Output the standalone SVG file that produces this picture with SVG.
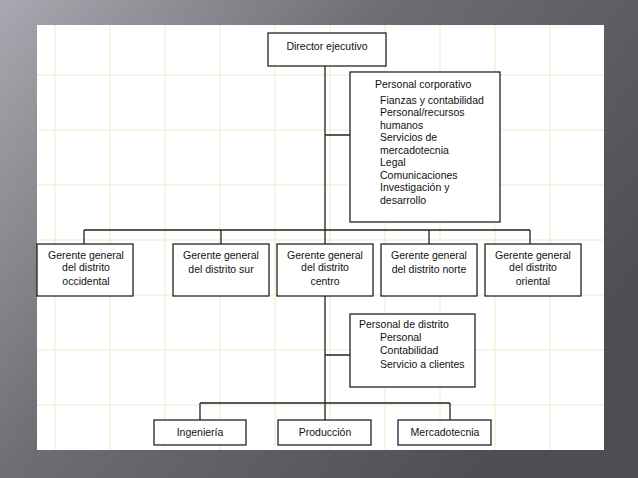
<svg xmlns="http://www.w3.org/2000/svg" width="638" height="478" viewBox="0 0 638 478">
<defs>
<linearGradient id="bg" x1="0" y1="0" x2="1" y2="0.6">
<stop offset="0" stop-color="#a9a7af"/><stop offset="0.45" stop-color="#6f6c74"/><stop offset="1" stop-color="#4f4d54"/>
</linearGradient>
<pattern id="grid" x="37" y="25" width="55" height="55" patternUnits="userSpaceOnUse">
<path d="M18 0V55M0 50H55" stroke="#ecebc8" stroke-width="1" fill="none"/>
</pattern>
</defs>
<style>
.b{fill:#fff;stroke:#222;stroke-width:1.3}
.c{stroke:#222;stroke-width:1.3;fill:none}
text{font-family:"Liberation Sans",Arial,sans-serif;font-size:10.5px;fill:#111}
.m{text-anchor:middle}
</style>
<rect width="638" height="478" fill="url(#bg)"/>
<rect x="37" y="25" width="567" height="425" fill="#fff"/>
<rect x="37" y="25" width="567" height="425" fill="url(#grid)"/>
<g id="connectors">
<path class="c" d="M325 66V420M325 135H350M84 230H530M84 230V244M221 230V244M429 230V244M530 230V244M325 355H350M200 403H450M200 403V420M450 403V420"/>
</g>
<g id="director"><rect class="b" x="268" y="33" width="118" height="33"/><text class="m" x="327" y="50">Director ejecutivo</text></g>
<g id="corporativo"><rect class="b" x="350" y="72" width="150" height="150"/>
<text x="375" y="88">Personal corporativo</text>
<text x="380" y="104">Fianzas y contabilidad</text>
<text x="380" y="116">Personal/recursos</text>
<text x="380" y="129">humanos</text>
<text x="380" y="141">Servicios de</text>
<text x="380" y="154">mercadotecnia</text>
<text x="380" y="166">Legal</text>
<text x="380" y="179">Comunicaciones</text>
<text x="380" y="191">Investigación y</text>
<text x="380" y="204">desarrollo</text></g>
<g id="occidental"><rect class="b" x="37" y="244" width="96" height="52"/><text class="m" x="86" y="259">Gerente general</text><text class="m" x="86" y="271">del distrito</text><text class="m" x="86" y="285">occidental</text></g>
<g id="sur"><rect class="b" x="173" y="244" width="96" height="52"/><text class="m" x="221" y="259">Gerente general</text><text class="m" x="221" y="273">del distrito sur</text></g>
<g id="centro"><rect class="b" x="277" y="244" width="96" height="52"/><text class="m" x="325" y="259">Gerente general</text><text class="m" x="325" y="271">del distrito</text><text class="m" x="325" y="285">centro</text></g>
<g id="norte"><rect class="b" x="381" y="244" width="96" height="52"/><text class="m" x="429" y="259">Gerente general</text><text class="m" x="429" y="273">del distrito norte</text></g>
<g id="oriental"><rect class="b" x="485" y="244" width="96" height="52"/><text class="m" x="533" y="259">Gerente general</text><text class="m" x="533" y="271">del distrito</text><text class="m" x="533" y="285">oriental</text></g>
<g id="distrito"><rect class="b" x="350" y="314" width="125" height="73"/>
<text x="359" y="328">Personal de distrito</text>
<text x="380" y="341">Personal</text>
<text x="380" y="354">Contabilidad</text>
<text x="380" y="368">Servicio a clientes</text></g>
<g id="ingenieria"><rect class="b" x="154" y="420" width="92" height="25"/><text class="m" x="200" y="436">Ingeniería</text></g>
<g id="produccion"><rect class="b" x="278" y="420" width="93" height="25"/><text class="m" x="325" y="436">Producción</text></g>
<g id="mercadotecnia"><rect class="b" x="398" y="420" width="93" height="25"/><text class="m" x="445" y="436">Mercadotecnia</text></g>
</svg>
